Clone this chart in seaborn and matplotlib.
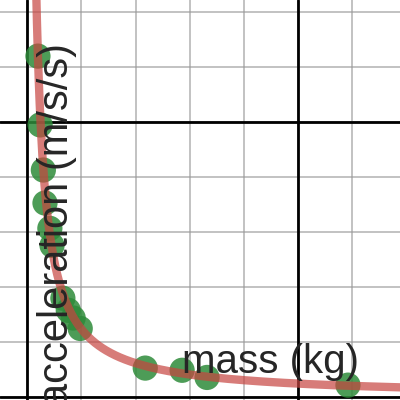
import numpy as np
import matplotlib
matplotlib.use("Agg")
import matplotlib.pyplot as plt
import seaborn as sns
import pandas as pd

mass = [0.20, 0.24, 0.30, 0.33, 0.42, 0.46, 0.66, 0.76, 0.85, 0.98, 2.18, 2.86, 3.32, 5.92]
accel = [6.20, 4.95, 4.13, 3.53, 3.07, 2.76, 1.80, 1.58, 1.44, 1.25, 0.53, 0.49, 0.36, 0.22]
k = 1.24

sns.set_style("white")
plt.rcParams['font.family'] = ['Liberation Sans', 'DejaVu Sans']
fig = plt.figure(figsize=(4, 4), dpi=100)
ax = fig.add_axes([0, 0, 1, 1])
xmin, xmax = -0.5, 6.88
ymin, ymax = -0.05, 7.22
for v in np.arange(0, 8):
    ax.axvline(v, color="#999999", lw=1.2, alpha=0.7, zorder=0)
    ax.axhline(v, color="#999999", lw=1.2, alpha=0.7, zorder=0)
for v in [0, 5]:
    ax.axvline(v, color="black", lw=2, zorder=1)
    ax.axhline(v, color="black", lw=2, zorder=1)

df = pd.DataFrame({"mass": mass, "accel": accel})
sns.scatterplot(data=df, x="mass", y="accel", ax=ax, s=330, color="#2e8b3a",
                alpha=0.85, edgecolor="none", zorder=2)
xs = np.linspace(0.165, xmax, 400)
ax.plot(xs, k / xs, color="#c74440", lw=6, alpha=0.7, zorder=3)

ax.text(270, 38, "mass (kg)", transform=None, fontsize=29, ha="center", va="center", zorder=4)
ax.text(57, 175, "acceleration (m/s/s)", transform=None, fontsize=30, rotation=90,
        ha="center", va="center", zorder=4)
ax.set_xlim(xmin, xmax)
ax.set_ylim(ymin, ymax)
ax.set_xticks([]); ax.set_yticks([])
ax.set_xlabel(""); ax.set_ylabel("")
for s in ax.spines.values():
    s.set_visible(False)
fig.savefig("out.png", dpi=100)
